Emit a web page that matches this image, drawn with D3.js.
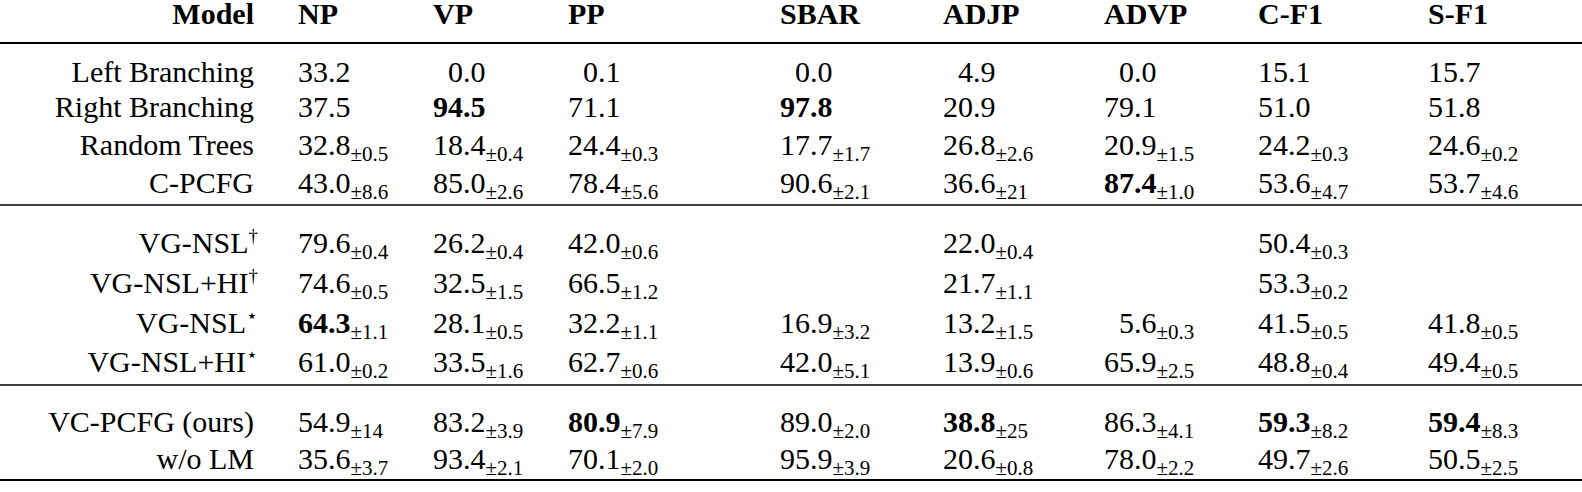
<!DOCTYPE html>
<html><head><meta charset="utf-8">
<script src="https://cdn.jsdelivr.net/npm/d3@7"></script>
<style>body{margin:0;background:#fff}text{font-family:"Liberation Serif","DejaVu Serif",serif;fill:#000}</style>
</head><body><div id="chart"></div>
<script>
// columns and header labels
var columns = ["Model","NP","VP","PP","SBAR","ADJP","ADVP","C-F1","S-F1"];
var models = ["Left Branching","Right Branching","Random Trees","C-PCFG",
  "VG-NSL","VG-NSL+HI","VG-NSL","VG-NSL+HI","VC-PCFG (ours)","w/o LM"];
var marks = ["","","","","\u2020","\u2020","\u22C6","\u22C6","",""];
// [value, std] per cell; null = empty
var values = [
  [[33.2],[0.0],[0.1],[0.0],[4.9],[0.0],[15.1],[15.7]],
  [[37.5],[94.5],[71.1],[97.8],[20.9],[79.1],[51.0],[51.8]],
  [[32.8,"0.5"],[18.4,"0.4"],[24.4,"0.3"],[17.7,"1.7"],[26.8,"2.6"],[20.9,"1.5"],[24.2,"0.3"],[24.6,"0.2"]],
  [[43.0,"8.6"],[85.0,"2.6"],[78.4,"5.6"],[90.6,"2.1"],[36.6,"21"],[87.4,"1.0"],[53.6,"4.7"],[53.7,"4.6"]],
  [[79.6,"0.4"],[26.2,"0.4"],[42.0,"0.6"],null,[22.0,"0.4"],null,[50.4,"0.3"],null],
  [[74.6,"0.5"],[32.5,"1.5"],[66.5,"1.2"],null,[21.7,"1.1"],null,[53.3,"0.2"],null],
  [[64.3,"1.1"],[28.1,"0.5"],[32.2,"1.1"],[16.9,"3.2"],[13.2,"1.5"],[5.6,"0.3"],[41.5,"0.5"],[41.8,"0.5"]],
  [[61.0,"0.2"],[33.5,"1.6"],[62.7,"0.6"],[42.0,"5.1"],[13.9,"0.6"],[65.9,"2.5"],[48.8,"0.4"],[49.4,"0.5"]],
  [[54.9,"14"],[83.2,"3.9"],[80.9,"7.9"],[89.0,"2.0"],[38.8,"25"],[86.3,"4.1"],[59.3,"8.2"],[59.4,"8.3"]],
  [[35.6,"3.7"],[93.4,"2.1"],[70.1,"2.0"],[95.9,"3.9"],[20.6,"0.8"],[78.0,"2.2"],[49.7,"2.6"],[50.5,"2.5"]]
];
// bold cells: [row, col]
var bold = [[1,1],[1,3],[3,5],[6,0],[8,2],[8,4],[8,6],[8,7]];

var width = 1582, height = 492;
var svg = d3.select("#chart").append("svg").attr("width", width).attr("height", height);

var x = d3.scaleOrdinal().domain(columns)
  .range([254, 298, 433, 568, 780, 943, 1104, 1258, 1428]);
var y = d3.scaleOrdinal().domain(d3.range(10))
  .range([82, 117, 155, 193, 253, 293, 333, 372, 432, 469]);
var rules = [[43, 2], [205, 1.3], [385, 1.3], [480, 2]];

svg.selectAll(".rule").data(rules).enter().append("line")
  .attr("x1", 0).attr("x2", width).attr("y1", d => d[0]).attr("y2", d => d[0])
  .attr("stroke", "#000").attr("stroke-width", d => d[1]);

svg.selectAll(".hdr").data(columns).enter().append("text")
  .attr("x", d => x(d)).attr("y", 24)
  .attr("text-anchor", (d, i) => i === 0 ? "end" : "start")
  .attr("font-size", 30).attr("font-weight", "bold").text(d => d);

var m = svg.selectAll(".model").data(models).enter().append("text")
  .attr("x", (d, i) => x("Model") + (marks[i] ? 4 : 0)).attr("y", (d, i) => y(i))
  .attr("text-anchor", "end").attr("font-size", 30);
m.append("tspan").text(d => d);
m.append("tspan").attr("dy", -11).attr("font-size", 19).text((d, i) => marks[i]);

values.forEach(function(row, r) {
  row.forEach(function(c, k) {
    if (!c) return;
    var isBold = bold.some(b => b[0] === r && b[1] === k);
    var t = svg.append("text")
      .attr("x", x(columns[k + 1]) + (c[0] < 10 ? 15 : 0))
      .attr("y", y(r)).attr("font-size", 30);
    t.append("tspan").attr("font-weight", isBold ? "bold" : "normal").text(c[0].toFixed(1));
    if (c[1]) t.append("tspan").attr("dy", 6).attr("font-size", 21).text("\u00B1" + c[1]);
  });
});
</script></body></html>
